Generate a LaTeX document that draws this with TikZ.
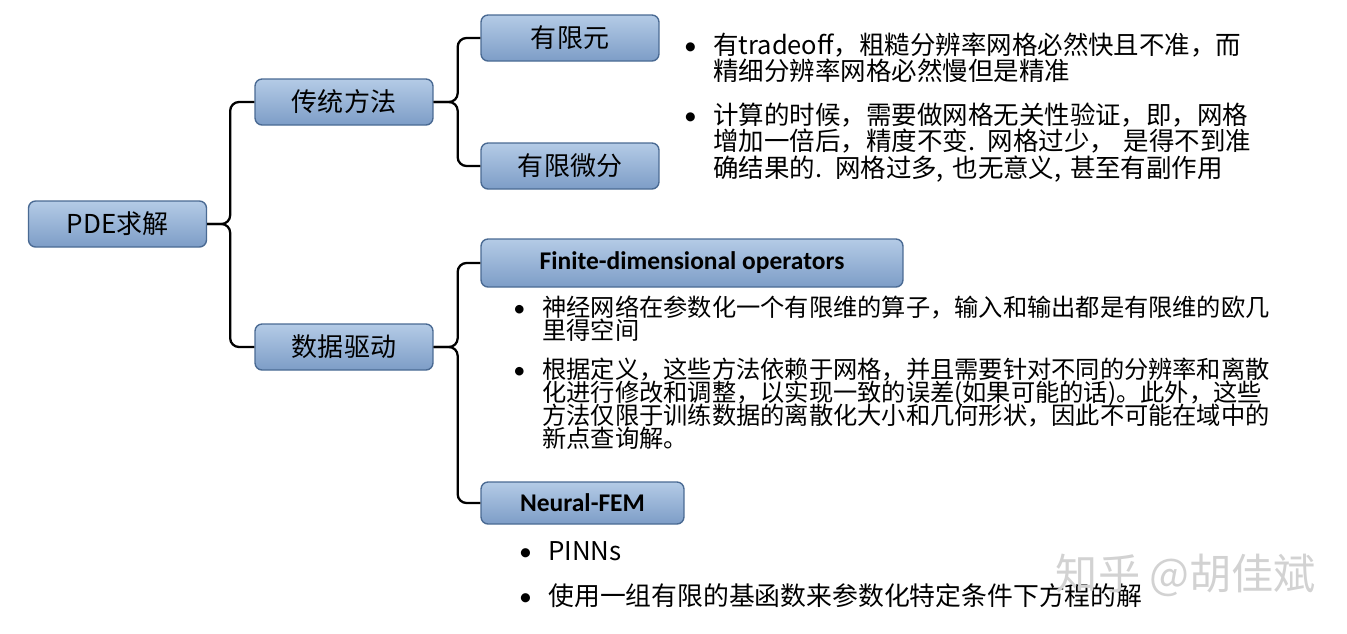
\documentclass[tikz,border=0pt]{standalone}
\usepackage{fontspec}
\setmainfont{Noto Sans CJK SC}
\newfontfamily\lat{Carlito}
\usetikzlibrary{positioning}
\definecolor{boxtop}{HTML}{B4CBE6}
\definecolor{boxbot}{HTML}{7D9DC7}
\definecolor{boxline}{HTML}{4A6A93}
\newcommand{\tightlines}{\lineskiplimit=-5pt\relax}
\tikzset{
  box/.style={draw=boxline, line width=0.8pt, rounded corners=4pt, top color=boxtop, bottom color=boxbot,
    inner sep=0pt, minimum width=3.56cm, minimum height=0.92cm, font=\fontsize{14.8}{16}\selectfont},
  opbox/.style={box, font=\lat\bfseries\fontsize{14.5}{16}\selectfont},
  link/.style={line width=1.3pt, rounded corners=5pt},
  note/.style={anchor=base west, inner sep=0pt, text width=13cm, align=left},
  bul/.style={anchor=base, inner sep=0pt, xshift=-0.45cm, execute at begin node=\lat},
  wmark/.style={text=gray!35, font=\fontsize{24}{26}\selectfont}
}

\begin{document}
\begin{tikzpicture}[x=0.02cm,y=-0.02cm]
  \useasboundingbox (0,0) rectangle (1347,633);
  % boxes
  \node[box] (pde) at (117.5,224) {PDE求解};
  \node[box] (trad) at (344,102) {传统方法};
  \node[box] (data) at (344,347) {数据驱动};
  \node[box] (fem) at (570,38) {有限元};
  \node[box] (fdm) at (570,166) {有限微分};
  \node[opbox, minimum width=8.44cm, minimum height=0.96cm] (fdo) at (692,263) {Finite-dimensional operators};
  \node[opbox, minimum width=4.06cm, minimum height=0.84cm] (nfem) at (582.5,503) {Neural-FEM};
  % brackets
  \draw[link] (pde.east) -- ++(23,0) |- (trad.west);
  \draw[link] (pde.east) -- ++(23,0) |- (data.west);
  \draw[link] (trad.east) -- ++(24,0) |- (fem.west);
  \draw[link] (trad.east) -- ++(24,0) |- (fdm.west);
  \draw[link] (data.east) -- ++(24,0) |- (fdo.west);
  \draw[link] (data.east) -- ++(24,0) |- (nfem.west);
  % notes
  \begin{scope}[every node/.append style={font={\fontsize{14.5}{15.3}\selectfont\tightlines}}]
    \node[note] (trade) at (713,54) {有tradeoff，粗糙分辨率网格必然快且不准，而\\精细分辨率网格必然慢但是精准};
    \node[bul] at (trade.base west) {•};
    \node[note] (grid) at (713,124) {计算的时候，需要做网格无关性验证，即，网格\\增加一倍后，精度不变. 网格过少，~是得不到准\\确结果的. 网格过多, 也无意义, 甚至有副作用};
    \node[bul] at (grid.base west) {•};
  \end{scope}
  \begin{scope}[every node/.append style={font={\fontsize{13.8}{13.2}\selectfont\tightlines}}]
    \node[note] (para) at (542,316) {神经网络在参数化一个有限维的算子，输入和输出都是有限维的欧几\\里得空间};
    \node[bul] at (para.base west) {•};
    \node[note] (mesh) at (542,378) {根据定义，这些方法依赖于网格，并且需要针对不同的分辨率和离散\\化进行修改和调整，以实现一致的误差(如果可能的话)。此外，这些\\方法仅限于训练数据的离散化大小和几何形状，因此不可能在域中的\\新点查询解。};
    \node[bul] at (mesh.base west) {•};
  \end{scope}
  \begin{scope}[every node/.append style={font={\fontsize{14.7}{16}\selectfont}}]
    \node[note] (pinn) at (548,560) {PINNs};
    \node[bul] at (pinn.base west) {•};
    \node[note] (basis) at (548,605) {使用一组有限的基函数来参数化特定条件下方程的解};
    \node[bul] at (basis.base west) {•};
  \end{scope}
  \node[wmark] (zhihu) at (1186,575) {知乎 @胡佳斌};
\end{tikzpicture}
\end{document}
